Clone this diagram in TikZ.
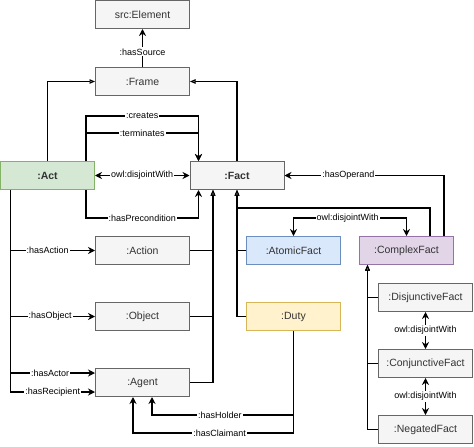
\documentclass[tikz,border=0pt]{standalone}
\usepackage{fontspec}
\setmainfont{Liberation Sans}
\usetikzlibrary{arrows.meta,calc}
\definecolor{boxfill}{HTML}{F5F5F5}
\definecolor{boxdraw}{HTML}{666666}
\definecolor{actfill}{HTML}{D5E8D4}
\definecolor{actdraw}{HTML}{82B366}
\definecolor{atomfill}{HTML}{DAE8FC}
\definecolor{atomdraw}{HTML}{6C8EBF}
\definecolor{cplxfill}{HTML}{E1D5E7}
\definecolor{cplxdraw}{HTML}{9673A6}
\definecolor{dutyfill}{HTML}{FFF2CC}
\definecolor{dutydraw}{HTML}{D6B656}
\definecolor{txt}{HTML}{333333}
\begin{document}
\begin{tikzpicture}[x=1pt,y=-1pt,
  box/.style={draw=boxdraw, fill=boxfill, line width=1pt, minimum width=94pt, minimum height=28pt, inner sep=0pt, text=txt, font=\fontsize{10.5}{12}\selectfont},
  lbl/.style={fill=white, inner sep=1pt, font=\fontsize{9}{11}\selectfont},
  con/.style={line width=1.1pt, black},
  arr/.style={con, -{Stealth[length=7pt,width=7pt]}},
  both/.style={con, {Stealth[length=7pt,width=7pt]}-{Stealth[length=7pt,width=7pt]}},
  inh/.style={con, -{Triangle[open,length=5.5pt,width=4.5pt,fill=white]}}
]
\useasboundingbox (0,0) rectangle (474,447);
% nodes
\node[box] (elem) at (142.5,14.5) {src:Element};
\node[box] (frame) at (142.5,81.5) {:Frame};
\node[box, fill=actfill, draw=actdraw, font=\fontsize{10.5}{12}\selectfont\bfseries] (act) at (47.5,175.5) {:Act};
\node[box, font=\fontsize{10.5}{12}\selectfont\bfseries] (fact) at (237,175.5) {:Fact};
\node[box] (action) at (142.5,250.5) {:Action};
\node[box] (object) at (142.5,316.5) {:Object};
\node[box] (agent) at (142.5,382.5) {:Agent};
\node[box, fill=atomfill, draw=atomdraw] (atomic) at (293.5,250.5) {:AtomicFact};
\node[box, fill=cplxfill, draw=cplxdraw] (complex) at (406.5,250.5) {:ComplexFact};
\node[box, fill=dutyfill, draw=dutydraw] (duty) at (293.5,316.5) {:Duty};
\node[box] (disj) at (425.5,297.5) {:DisjunctiveFact};
\node[box] (conj) at (425.5,363.5) {:ConjunctiveFact};
\node[box] (neg) at (425.5,429.5) {:NegatedFact};
% connectors
\draw[arr] (frame.north) -- node[lbl, pos=0.4]{:hasSource} (elem.south);
\draw[inh] (act.north) |- (frame.west);
\draw[inh] (fact.north) |- (frame.east);
\draw[arr] ([xshift=-9pt]act.north east) -- ++(0,-45) -| node[lbl, pos=0.25]{:creates} ([xshift=9pt]fact.north west);
\draw[arr] ([xshift=-9pt]act.north east) -- ++(0,-28) -| node[lbl, pos=0.25]{:terminates} ([xshift=9pt]fact.north west);
\draw[both] (act.east) -- node[lbl]{owl:disjointWith} (fact.west);
\draw[arr] ([xshift=-9pt]act.south east) -- ++(0,28) -| node[lbl, pos=0.25]{:hasPrecondition} ([xshift=9pt]fact.south west);
\draw[arr] ([xshift=10.5pt]act.south west) |- node[lbl, pos=0.72]{:hasAction} (action.west);
\draw[arr] ([xshift=10.5pt]act.south west) |- node[lbl, pos=0.735]{:hasObject} (object.west);
\draw[arr] ([xshift=10.5pt]act.south west) |- node[lbl, pos=0.735]{:hasActor} ([yshift=9.5pt]agent.west);
\draw[arr] ([xshift=10.5pt]act.south west) |- node[lbl, pos=0.75]{:hasRecipient} ([yshift=-9.5pt]agent.west);
\draw[inh] (action.east) -| ([xshift=-24pt]fact.south);
\draw[inh] (object.east) -| ([xshift=-24pt]fact.south);
\draw[inh] (agent.east) -| ([xshift=-24pt]fact.south);
\draw[inh] (atomic.west) -| (fact.south);
\draw[inh] (duty.west) -| (fact.south);
\draw[inh] ([xshift=23.5pt]complex.north) -- ++(0,-28) -| (fact.south);
\draw[arr] ([xshift=37.5pt]complex.north) |- node[lbl, pos=0.8]{:hasOperand} (fact.east);
\draw[both] (atomic.north) -- ++(0,-18) -| node[lbl, pos=0.24]{owl:disjointWith} (complex.north);
\draw[inh] (disj.west) -| ([xshift=8.5pt]complex.south west);
\draw[inh] (conj.west) -| ([xshift=8.5pt]complex.south west);
\draw[inh] (neg.west) -| ([xshift=8.5pt]complex.south west);
\draw[both] (disj.south) -- node[lbl]{owl:disjointWith} (conj.north);
\draw[both] (conj.south) -- node[lbl]{owl:disjointWith} (neg.north);
\draw[arr] (duty.south) -- ++(0,84) -| node[lbl, pos=0.26]{:hasHolder} ([xshift=9.5pt]agent.south);
\draw[arr] (duty.south) -- ++(0,102) -| node[lbl, pos=0.23]{:hasClaimant} ([xshift=-9.5pt]agent.south);
\end{tikzpicture}
\end{document}
